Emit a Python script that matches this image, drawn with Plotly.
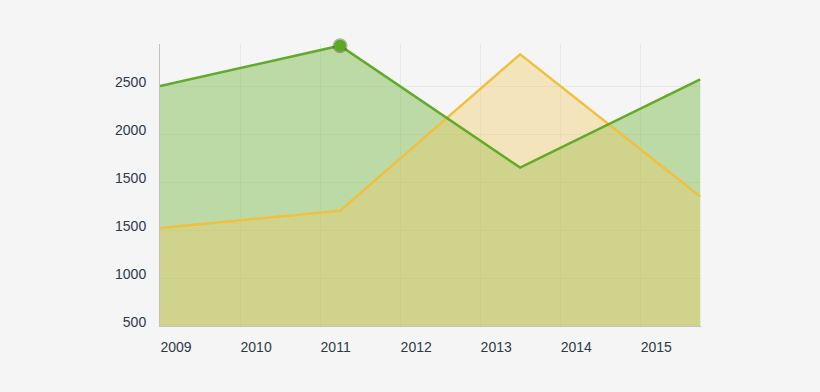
import plotly.graph_objects as go

# Data
x_pos = [2009, 2011.25, 2013.5, 2015.75]
green_vals = [3000, 3420, 2150, 3070]
yellow_vals = [1520, 1700, 3330, 1850]
x_tick_vals = [2009, 2010, 2011, 2012, 2013, 2014, 2015]
x_tick_text = ["2009", "2010", "2011", "2012", "2013", "2014", "2015"]
y_tick_vals = [500, 1000, 1500, 2000, 2500, 3000]
y_tick_text = ["500", "1000", "1500", "1500", "2000", "2500"]
highlight_index = 1

GREEN = "rgb(98,170,42)"
YELLOW = "rgb(240,192,64)"

fig = go.Figure()
# fills
fig.add_trace(go.Scatter(
    x=x_pos, y=green_vals, mode="none", fill="tozeroy",
    fillcolor="rgba(120,186,70,0.45)", hoverinfo="skip", showlegend=False))
fig.add_trace(go.Scatter(
    x=x_pos, y=yellow_vals, mode="none", fill="tozeroy",
    fillcolor="rgba(240,200,95,0.38)", hoverinfo="skip", showlegend=False))
# lines on top
fig.add_trace(go.Scatter(
    x=x_pos, y=yellow_vals, mode="lines",
    line=dict(color=YELLOW, width=2.5), hoverinfo="skip", showlegend=False))
fig.add_trace(go.Scatter(
    x=x_pos, y=green_vals, mode="lines",
    line=dict(color=GREEN, width=2.5), hoverinfo="skip", showlegend=False))
# highlighted point with soft shadow
fig.add_trace(go.Scatter(
    x=[x_pos[highlight_index]], y=[green_vals[highlight_index]], mode="markers",
    marker=dict(size=15, color="rgba(40,70,20,0.35)", line=dict(width=0)),
    cliponaxis=False, hoverinfo="skip", showlegend=False))
fig.add_trace(go.Scatter(
    x=[x_pos[highlight_index]], y=[green_vals[highlight_index]], mode="markers",
    marker=dict(size=12, color="rgb(92,168,36)", line=dict(width=0)),
    cliponaxis=False, hoverinfo="skip", showlegend=False))

font_color = "#2b3a4a"
fig.update_layout(
    width=820, height=392,
    margin=dict(l=160, r=119, t=44, b=66),
    paper_bgcolor="#f5f5f5", plot_bgcolor="#f5f5f5",
    font=dict(family="Liberation Sans, Arial, sans-serif", size=14, color=font_color),
    xaxis=dict(
        range=[2009, 2015.76], tickvals=x_tick_vals, ticktext=x_tick_text,
        showgrid=True, gridcolor="#e8e8e8", gridwidth=1, zeroline=False,
        showline=True, linecolor="#c2c2c2", linewidth=1,
        ticks="", ticklabelposition="outside right", ticklabelstandoff=8,
        fixedrange=True),
    yaxis=dict(
        range=[500, 3437.5], tickvals=y_tick_vals, ticktext=y_tick_text,
        showgrid=True, gridcolor="#e8e8e8", gridwidth=1, zeroline=False,
        showline=True, linecolor="#c2c2c2", linewidth=1,
        ticks="", ticklabelposition="outside", ticklabelstandoff=10,
        ticklabelshift=-4, fixedrange=True),
)

fig.write_html(
    "out.html",
    config={"displayModeBar": False, "staticPlot": True},
    post_script="document.body.style.margin='0';document.body.style.overflow='hidden';document.body.style.background='#f5f5f5';",
)
